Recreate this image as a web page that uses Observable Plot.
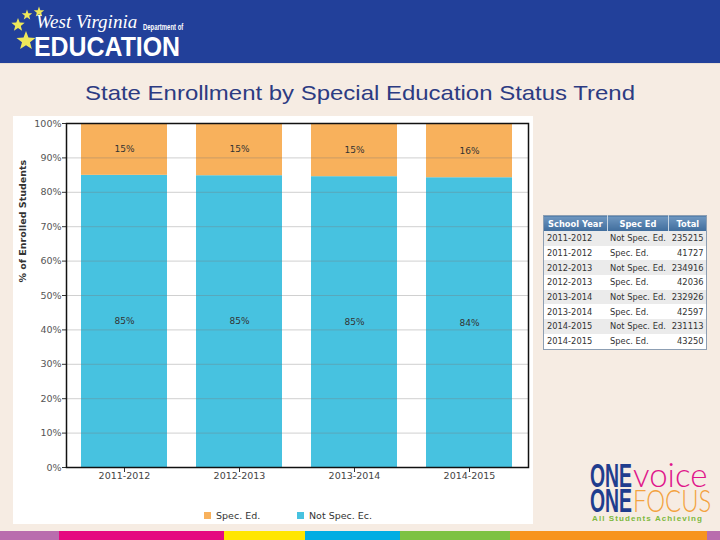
<!DOCTYPE html>
<html>
<head>
<meta charset="utf-8">
<script src="https://cdn.jsdelivr.net/npm/d3@7"></script>
<script src="https://cdn.jsdelivr.net/npm/@observablehq/plot@0.6"></script>
<style>
  html, body { margin: 0; padding: 0; }
  body { width: 720px; height: 540px; position: relative; overflow: hidden; background: #f6ece3; font-family: "DejaVu Sans", sans-serif; }
  #header { position: absolute; left: 0; top: 0; width: 720px; height: 63px; background: #22409a; border-bottom: 1px solid #e9dfd6; }
  #titlesvg { position: absolute; left: 0; top: 70px; }
  #panel { position: absolute; left: 13px; top: 116px; width: 520px; height: 408px; background: #fff; }
  #chart { position: absolute; left: 13px; top: 116px; }
  #legend { position: absolute; top: 510px; left: 0; font-size: 9.5px; color: #333; }
  .lg { position: absolute; white-space: nowrap; }
  .sw { display: inline-block; width: 7px; height: 7px; margin-right: 5px; }
  #tbl { position: absolute; left: 543px; top: 215px; border-collapse: collapse; font-size: 8.3px; color: #333; background: #fff; border: 1px solid #8d9fb3; }
  #tbl th { height: 15px; padding: 0 4px; color: #fff; font-weight: bold; background: linear-gradient(#6f97c0, #3f6c9c); border-left: 1px solid #c8d6e4; text-align: center; }
  #tbl th:first-child { border-left: none; }
  #tbl td { height: 14.7px; padding: 0 3px; white-space: nowrap; }
  #tbl tr:nth-child(even) td { background: #ebebeb; }
  #tbl td.num { text-align: right; }
  #stripe { position: absolute; left: 0; top: 531px; width: 720px; height: 9px; }
  #stripe div { position: absolute; top: 0; height: 9px; }
</style>
</head>
<body>
<div id="header">
  <svg id="logo" width="240" height="63" style="position:absolute;left:0;top:0">
    <text transform="translate(36,27.5)" font-size="19" font-style="italic" fill="#fff" font-family="Liberation Serif">West Virginia</text>
    <text transform="translate(143,29.5) scale(0.7,1)" font-size="8.5" font-weight="bold" fill="#fff" font-family="Liberation Sans">Department of</text>
    <text transform="translate(34,56.3) scale(1,1.1)" font-size="24.9" font-weight="bold" fill="#fff" font-family="Liberation Sans">EDUCATION</text>
  </svg>
</div>
<svg id="titlesvg" width="720" height="40">
  <text x="85" y="30" font-size="21" fill="#2c3b82" font-family="Liberation Sans" textLength="550" lengthAdjust="spacingAndGlyphs">State Enrollment by Special Education Status Trend</text>
</svg>
<div id="panel"></div>
<div id="chart"></div>
<div id="legend"></div>
<table id="tbl"></table>
<svg width="140" height="90" style="position:absolute;left:580px;top:440px">
  <text transform="translate(10,0) scale(1,1.75)" font-size="19.4" font-weight="bold" fill="#1f3d8e" font-family="Liberation Sans"><tspan x="0" y="26.9">ONE</tspan><tspan x="0" y="41.1">ONE</tspan></text>
  <text transform="translate(53,47)" font-size="33" fill="#e0168b" font-family="Lato" font-weight="300">voice</text>
  <text transform="translate(53,72) scale(1,1.35)" font-size="23.8" fill="#f3a23e" font-family="Lato" font-weight="300">FOCUS</text>
  <text x="12" y="81" font-size="8" font-weight="bold" fill="#7db93d" font-family="Liberation Sans" letter-spacing="1.1">All Students Achieving</text>
</svg>
<div id="stripe"></div>
<script>
// ---- data ----
const years = ["2011-2012", "2012-2013", "2013-2014", "2014-2015"];
const notSpecEd = [235215, 234916, 232926, 231113];
const specEd = [41727, 42036, 42597, 43250];
const statusNames = ["Spec. Ed.", "Not Spec. Ed."];
const legendLabels = ["Spec. Ed.", "Not Spec. Ec."];
const statusColors = ["#f8b15c", "#47c2e0"];
const yTicks = [0, 0.1, 0.2, 0.3, 0.4, 0.5, 0.6, 0.7, 0.8, 0.9, 1];
const tableHeaders = ["School Year", "Spec Ed", "Total"];
const stripeColors = ["#b96dae", "#e50a80", "#ffe600", "#00ade3", "#7dc243", "#f7941e", "#b96dae"];
const stripeEdges = [0, 59, 224, 305, 400, 510, 707, 720];

// decorative logo stars
const logoStars = [[27, 15, 5.5], [39, 12, 5.5], [18, 25, 7], [26, 41, 10]];
const logo = d3.select("#logo");
logoStars.forEach(([cx, cy, r]) => {
  const pts = d3.range(10).map(k => {
    const a = -Math.PI / 2 + k * Math.PI / 5;
    const rr = k % 2 ? r * 0.42 : r;
    return [cx + rr * Math.cos(a), cy + rr * Math.sin(a)];
  });
  logo.insert("polygon", ":first-child").attr("points", pts.map(p => p.join(",")).join(" ")).attr("fill", "#eee85a");
});

// ---- derived rows ----
const rows = [];
years.forEach((year, i) => {
  const total = notSpecEd[i] + specEd[i];
  const pNot = notSpecEd[i] / total;
  const pSpec = specEd[i] / total;
  rows.push({year, status: "Not Spec. Ed.", pct: pNot, y1: 0, y2: pNot});
  rows.push({year, status: "Spec. Ed.", pct: pSpec, y1: pNot, y2: 1});
});

const chart = Plot.plot({
  width: 520,
  height: 380,
  marginLeft: 53,
  marginRight: 5,
  marginTop: 7,
  marginBottom: 29,
  style: {fontFamily: "DejaVu Sans, sans-serif", fontSize: "9.5px", color: "#333", background: "transparent"},
  x: {domain: years, paddingInner: 0.25, paddingOuter: 0.13, label: null},
  y: {domain: [0, 1], label: null},
  color: {domain: statusNames, range: statusColors},
  marks: [
    Plot.barY(rows, {x: "year", y1: "y1", y2: "y2", fill: "status"}),
    Plot.gridY(yTicks, {stroke: "#777", strokeOpacity: 0.35}),
    Plot.text(rows, {x: "year", y: d => (d.y1 + d.y2) / 2, text: d => Math.round(d.pct * 100) + "%", fill: "#333", fontSize: 9}),
    Plot.axisY(yTicks, {tickFormat: d => Math.round(d * 100) + "%", tickSize: 4, tickPadding: 1, label: null, fill: "#555"}),
    Plot.axisX({tickSize: 5, tickPadding: 0, label: null, fill: "#444"}),
    Plot.frame({stroke: "#111", strokeWidth: 1.5}),
    Plot.text(["% of Enrolled Students"], {text: d => d, frameAnchor: "left", rotate: -90, dx: -44, dy: -13, fontWeight: "bold", fontSize: 9.5, fill: "#333"})
  ]
});
document.getElementById("chart").appendChild(chart);

// legend
const legendX = [204, 297];
const legend = document.getElementById("legend");
legendLabels.forEach((lab, i) => {
  const el = document.createElement("div");
  el.className = "lg";
  el.style.left = legendX[i] + "px";
  el.innerHTML = `<span class="sw" style="background:${statusColors[i]}"></span>${lab}`;
  legend.appendChild(el);
});

// table
const tbl = document.getElementById("tbl");
const hr = document.createElement("tr");
tableHeaders.forEach(h => { const th = document.createElement("th"); th.textContent = h; hr.appendChild(th); });
tbl.appendChild(hr);
years.forEach((year, i) => {
  [["Not Spec. Ed.", notSpecEd[i]], ["Spec. Ed.", specEd[i]]].forEach(([s, v]) => {
    const tr = document.createElement("tr");
    tr.innerHTML = `<td>${year}</td><td>${s}</td><td class="num">${v}</td>`;
    tbl.appendChild(tr);
  });
});

// stripe
const stripe = document.getElementById("stripe");
stripeColors.forEach((c, i) => {
  const d = document.createElement("div");
  d.style.left = stripeEdges[i] + "px";
  d.style.width = (stripeEdges[i + 1] - stripeEdges[i]) + "px";
  d.style.background = c;
  stripe.appendChild(d);
});
</script>
</body>
</html>
